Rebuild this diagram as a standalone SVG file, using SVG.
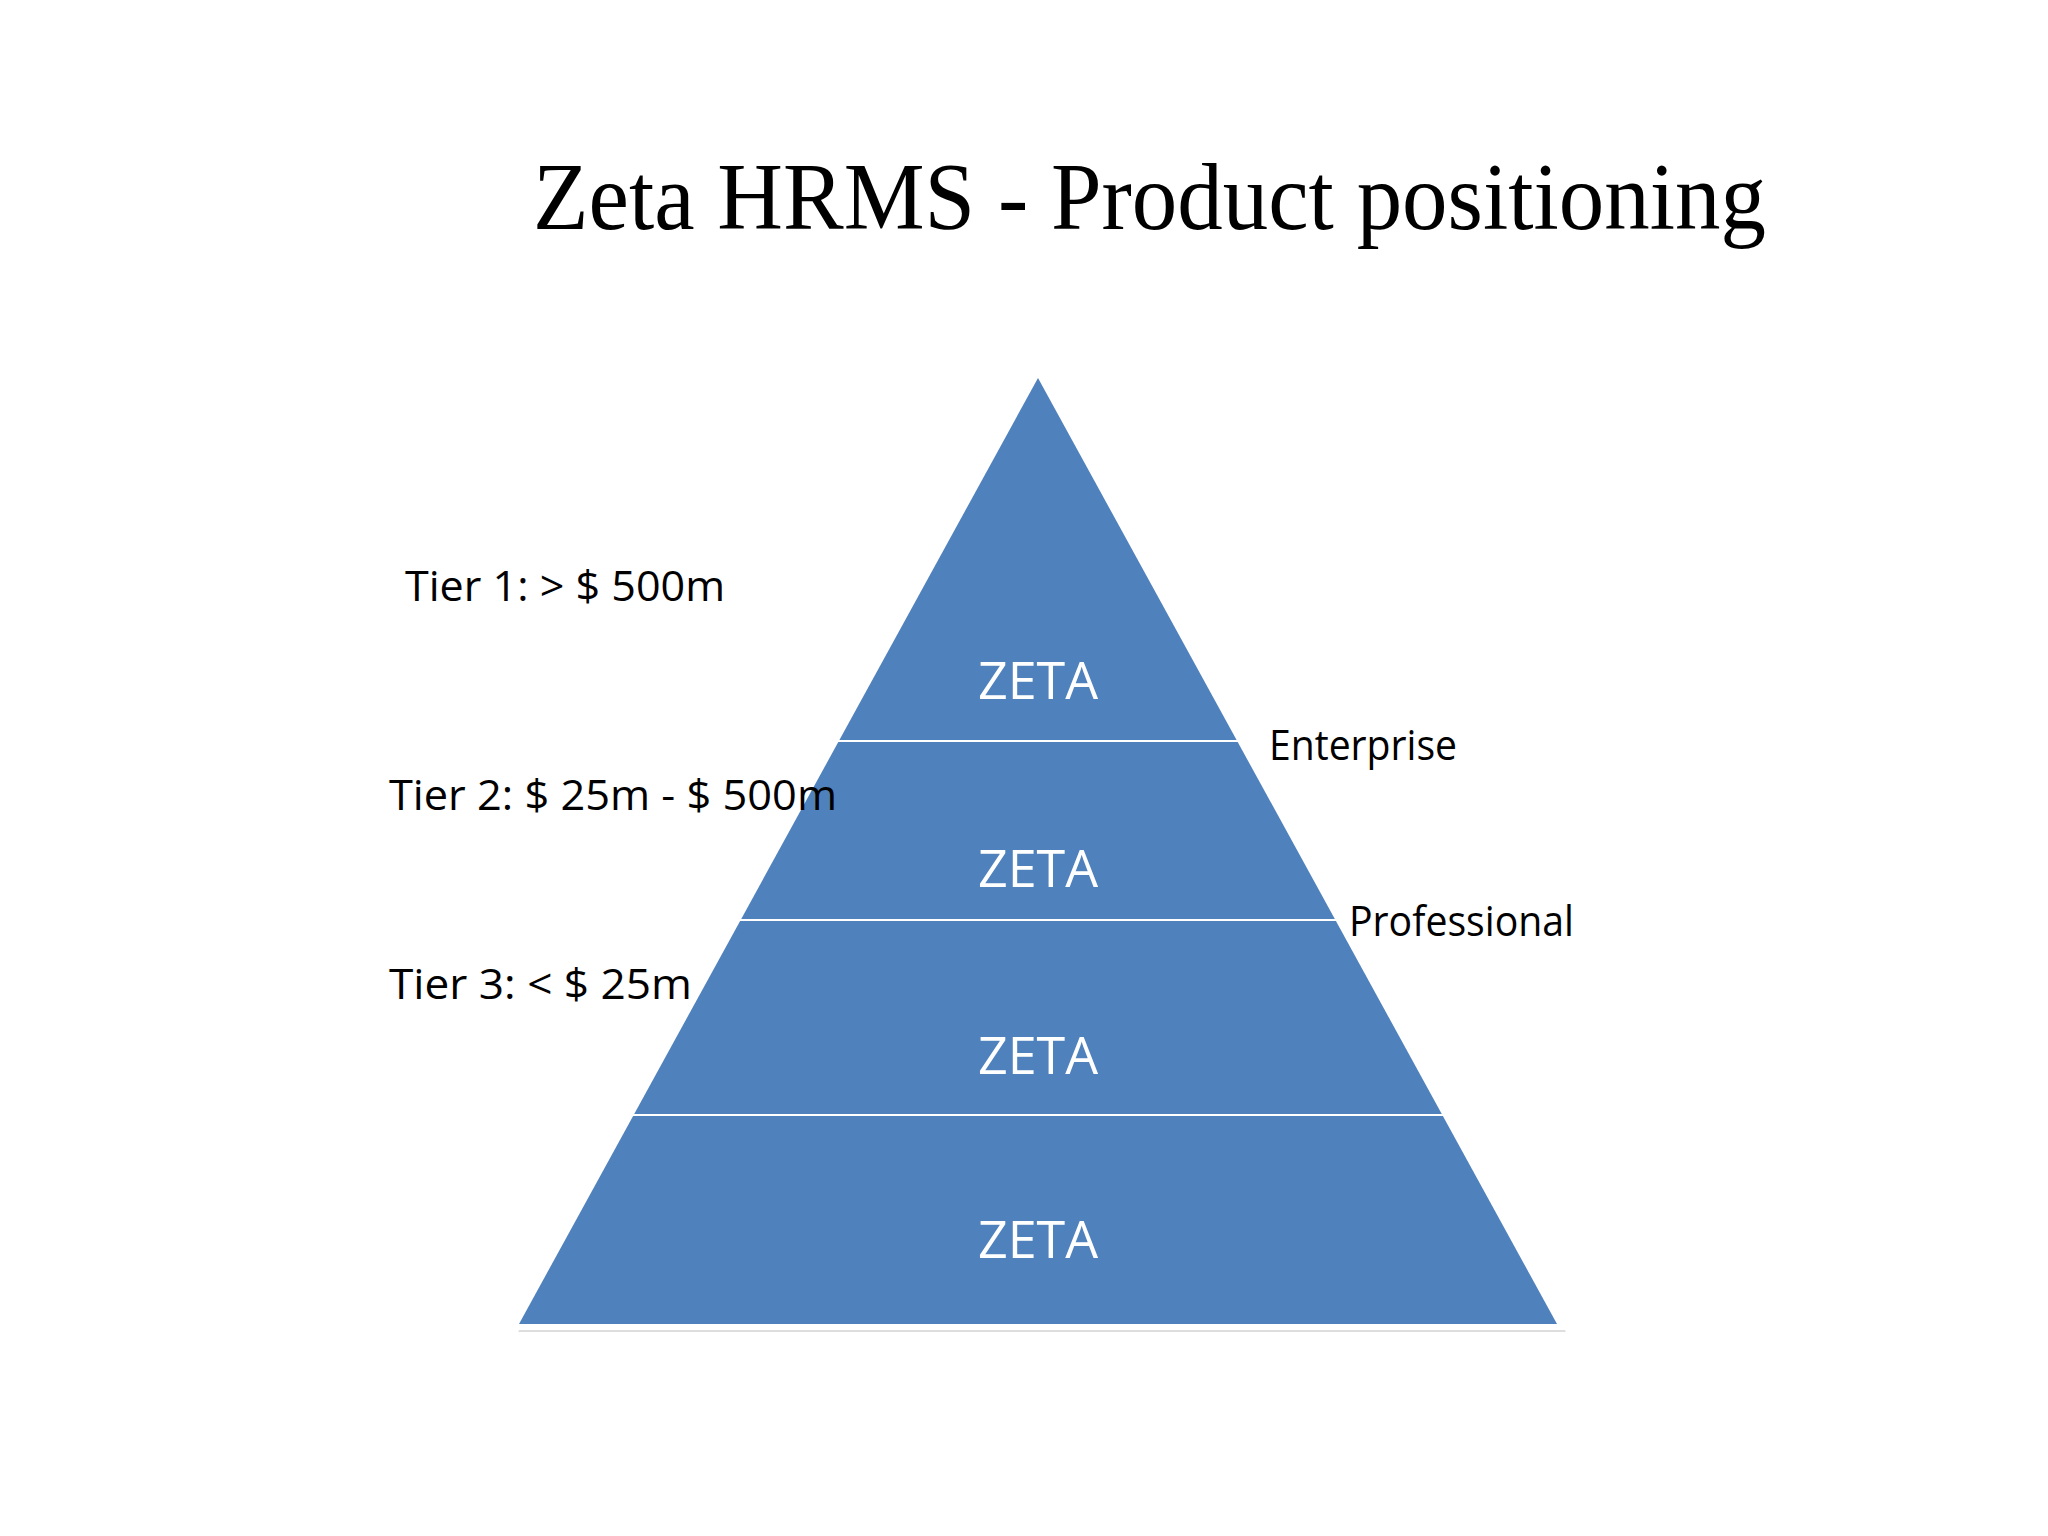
<svg xmlns="http://www.w3.org/2000/svg" width="2048" height="1536" viewBox="0 0 2048 1536" xml:space="preserve">
<style>
.lbl{font-family:"Open Sans","Noto Sans",sans-serif;font-size:42px;fill:#000}
.z{font-family:"Open Sans","Noto Sans",sans-serif;font-size:52px;fill:#fff;text-anchor:middle}
.div{stroke:#fff;stroke-width:2}
</style>
<rect width="2048" height="1536" fill="#fff"/>
<text x="533" y="229" font-family="Liberation Serif,serif" font-size="96" textLength="1233" lengthAdjust="spacingAndGlyphs">Zeta HRMS - Product positioning</text>
<g id="pyramid">
<polygon points="1038,380 518,1332 1566,1332" fill="#c8c8c8" opacity="0.6"/>
<polygon points="1038,372 511,1330 1566,1330" fill="#fff"/>
<polygon points="1038,378 519,1324 1557,1324" fill="#4F81BD"/>
<line class="div" x1="837" y1="741" x2="1239" y2="741"/>
<line class="div" x1="739" y1="920" x2="1338" y2="920"/>
<line class="div" x1="632" y1="1115" x2="1444" y2="1115"/>
</g>
<g id="tier1"><text class="z" x="1038" y="699">ZETA</text></g>
<g id="tier2"><text class="z" x="1038" y="887" font-size="60">ZETA</text></g>
<g id="tier3"><text class="z" x="1038" y="1074">ZETA</text></g>
<g id="tier4"><text class="z" x="1038" y="1258">ZETA</text></g>
<g id="labels">
<text class="lbl" x="405" y="601" textLength="320" lengthAdjust="spacingAndGlyphs">Tier 1:  &gt; $ 500m</text>
<text class="lbl" x="389" y="810" textLength="448" lengthAdjust="spacingAndGlyphs">Tier 2:  $ 25m - $ 500m</text>
<text class="lbl" x="389" y="999" textLength="303" lengthAdjust="spacingAndGlyphs">Tier 3:  &lt; $ 25m</text>
<text class="lbl" x="1269" y="760" textLength="188" lengthAdjust="spacingAndGlyphs">Enterprise</text>
<text class="lbl" x="1349" y="936" textLength="225" lengthAdjust="spacingAndGlyphs">Professional</text>
</g>
<g id="connectors"/>
</svg>
